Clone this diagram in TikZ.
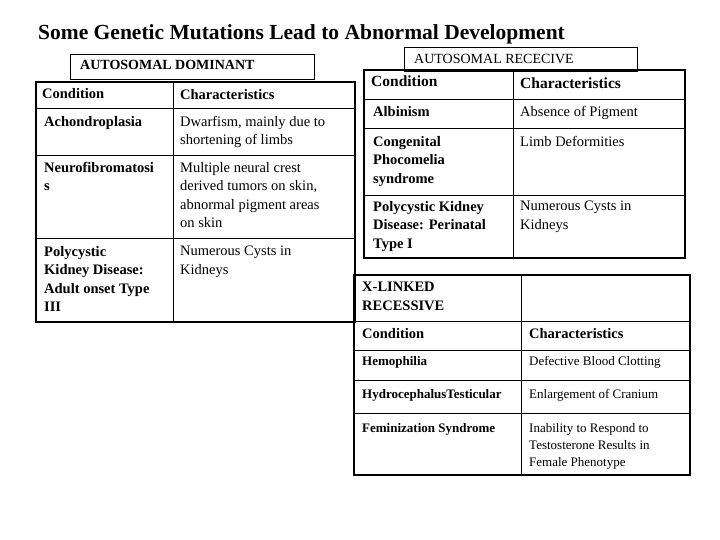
\documentclass[tikz,border=0pt]{standalone}
\usepackage{fontspec}
\setmainfont{Liberation Serif}
\begin{document}
\begin{tikzpicture}[x=1pt,y=-1pt,
  cell/.style={anchor=north west,inner sep=0pt,align=left,font=\fontsize{14.5}{18.5}\selectfont},
  bcell/.style={cell,font=\bfseries\fontsize{14.5}{18.5}\selectfont},
  scell/.style={cell,font=\fontsize{13}{17}\selectfont},
  sbcell/.style={cell,font=\bfseries\fontsize{13}{17}\selectfont},
  outer/.style={draw,line width=2pt},
  grid/.style={draw,line width=0.8pt},
  lbl/.style={draw,line width=1pt,inner sep=0pt}]
\useasboundingbox (0,0) rectangle (720,540);
\node[anchor=base west,inner sep=0pt,font=\bfseries\fontsize{21.5}{24}\selectfont] (title) at (38,40) {Some Genetic Mutations Lead to Abnormal Development};
% AD label
\draw[lbl] (70,55) rectangle (314,80);
\node[bcell,font=\bfseries\fontsize{14}{16}\selectfont] (adl) at (80,60) {AUTOSOMAL DOMINANT};
% left table
\draw[grid] (173,82)--(173,322) (36,108)--(355,108) (36,155)--(355,155) (36,238)--(355,238);
\draw[outer] (36,82) rectangle (355,322);
\node[bcell] (a1) at (42,88) {Condition};
\node[bcell] (a2) at (180,89) {Characteristics};
\node[bcell] (a3) at (44,116) {Achondroplasia};
\node[cell] (a4) at (180,116) {Dwarfism, mainly due to\\shortening of limbs};
\node[bcell] (a5) at (44,162) {Neurofibromatosi\\s};
\node[cell] (a6) at (180,162) {Multiple neural crest\\derived tumors on skin,\\abnormal pigment areas\\on skin};
\node[bcell] (a7) at (44,246) {Polycystic\\Kidney Disease:\\Adult onset Type\\III};
\node[cell] (a8) at (180,246) {Numerous Cysts in\\Kidneys};
% AR label
\draw[lbl] (404,48) rectangle (637,72);
\node[cell,font=\fontsize{14}{16}\selectfont] (arl) at (414,54) {AUTOSOMAL RECECIVE};
% right top table
\draw[grid] (513,70)--(513,258) (364,99)--(685,99) (364,128)--(685,128) (364,195)--(685,195);
\draw[outer] (364,70) rectangle (685,258);
\node[bcell,font=\bfseries\fontsize{15.5}{18}\selectfont] (b1) at (371,76) {Condition};
\node[bcell,font=\bfseries\fontsize{15.5}{18}\selectfont] (b2) at (520,78) {Characteristics};
\node[bcell] (b3) at (373,106) {Albinism};
\node[cell] (b4) at (520,106) {Absence of Pigment};
\node[bcell] (b5) at (373,136) {Congenital\\Phocomelia\\syndrome};
\node[cell] (b6) at (520,136) {Limb Deformities};
\node[bcell] (b7) at (373,201) {Polycystic Kidney\\Disease: Perinatal\\Type I};
\node[cell] (b8) at (520,201) {Numerous Cysts in\\Kidneys};
% X-linked table
\draw[grid] (521,275)--(521,475) (354,321)--(690,321) (354,350)--(690,350) (354,380)--(690,380) (354,413)--(690,413);
\draw[outer] (354,275) rectangle (690,475);
\node[bcell] (c0) at (362,282) {X-LINKED\\RECESSIVE};
\node[bcell] (c1) at (362,328) {Condition};
\node[bcell] (c2) at (529,328) {Characteristics};
\node[sbcell] (c3) at (362,356) {Hemophilia};
\node[scell] (c4) at (529,356) {Defective Blood Clotting};
\node[sbcell] (c5) at (362,389) {HydrocephalusTesticular};
\node[scell] (c6) at (529,389) {Enlargement of Cranium};
\node[sbcell] (c7) at (362,423) {Feminization Syndrome};
\node[scell] (c8) at (529,423) {Inability to Respond to\\Testosterone Results in\\Female Phenotype};
\end{tikzpicture}
\end{document}
